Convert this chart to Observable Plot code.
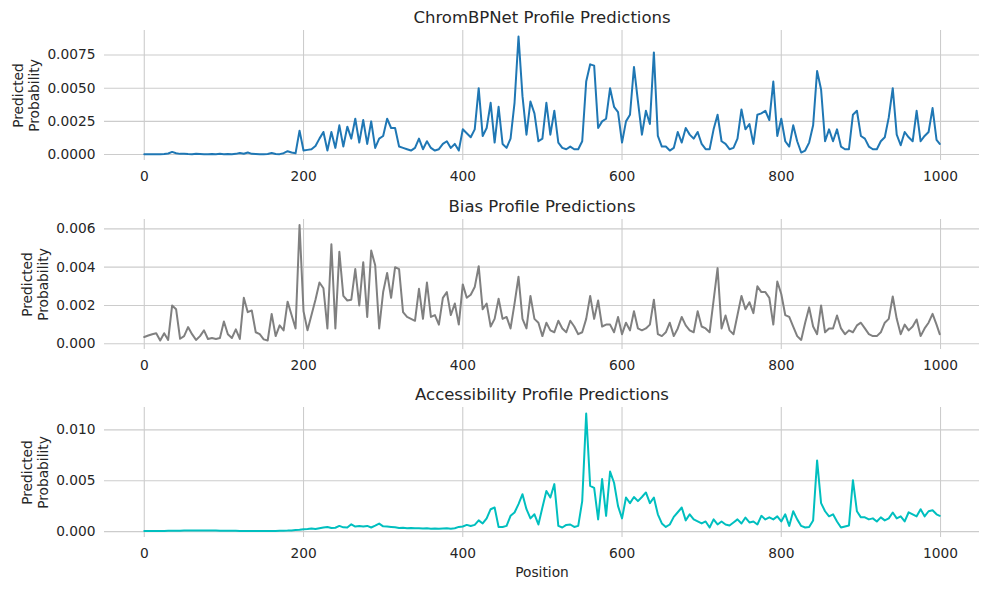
<!DOCTYPE html>
<html><head><meta charset="utf-8">
<script src="https://cdn.jsdelivr.net/npm/d3@7"></script>
<script src="https://cdn.jsdelivr.net/npm/@observablehq/plot@0.6"></script>
<style>
html,body{margin:0;padding:0;background:#fff;}
#chart svg{display:block;}
</style></head><body><div id="chart"></div>
<script>
// positions along the 1000-bp window (sampled every 5 bp, plus the last position)
const positions = d3.range(0, 1000, 5).concat([999]);

// predicted probabilities, in units of 1e-4
const chrombpnet = [0.3,0.3,0.3,0.3,0.3,0.4,0.8,2.0,1.0,0.5,0.6,0.4,0.3,0.5,0.4,0.3,0.3,0.4,0.3,0.5,
 0.3,0.4,0.3,0.5,1.2,0.6,1.5,0.5,0.4,0.3,0.3,0.4,1.2,0.4,0.3,1.0,2.5,1.5,1.0,18,
 3,3.5,4,6.5,12,17,3,17,5,22,6,21,12,27,9,26,8,25,5,12,
 14,27,20,20,6,5,4,3,5,12,4,10,5,3,4,8,10,5,8,3,
 19,16,13,19,50,14,20,39,9,36,8,5,12,39,89,44,15,40,31,10,
 12,39,15,33,9,5,4,6,4,4,10,55,68,67,20,25,27,50,36,32,
 9,25,30,66,40,15,33,23,77,14,6,6,3,5,17,9,20,15,12,17,
 8,4,4,19,30,10,8,4,5,12,34,19,23,8,30,31,33,26,55,14,
 27,10,6,22,10,1.5,3,9,22,63,49,10,19,10,19,6,4,4,30,33,
 14,12,6,4,4,10,13,28,50,15,7,17,13,10,33,10,14,17,35,11,
 8];

const bias = [3.5,4.3,5,5.5,1.7,5.5,2,20,18,2.6,4,8.7,5,2,4,7,2.5,3,2.5,3,
 11.6,5,3,7.5,2.5,24,16.5,17.4,6,5,2.3,1.7,15.6,4,9.6,7,22,15,8,62,
 17,7,15,23,32,29,8,52,8,48,25,22.6,23,39,20,42.6,14,48.7,41,8,
 27,37,24,40,39,16.5,14,13,12,28.7,13,32,14,15,10,24,27,15,21,10,
 31,24,25.6,29.6,40.5,18,21,9,13,23.5,13,14,8,21,35,13,8,25,13,11,
 4,11,7,6,12,8,6,12,9,5,6,13,25,13,22.6,9,10,10,6,14,
 5,11,7,17,8,7,8,10,23,5,4,6,11,4,8,14,9.6,7,6,17,
 9,8,6,22.6,39.5,8,14.8,7,5,15,25,18,21.7,16,30,27,27,24,10,32.5,
 26,15,14,9,4,2,11,19,9,5,20,6,8,8,14.8,8,5,7,6,9.6,
 11,8,5,4,4,6,11,13,24.7,13,5,10,7,9,12.7,4,8,11,15.6,10,
 5];

const accessibility = [0.5,0.5,0.6,0.6,0.7,0.7,0.8,0.8,0.9,0.9,1.0,1.0,1.1,1.0,1.1,1.0,1.1,1.0,1.0,0.9,
 0.9,0.8,0.8,0.8,0.7,0.7,0.7,0.6,0.6,0.6,0.6,0.6,0.7,0.7,0.8,0.9,1.0,1.2,1.5,1.8,
 2.3,2.6,3.0,2.5,3.3,4.0,4.6,3.5,3.8,5.6,4.2,4.0,7.2,5.0,5.4,5.0,5.6,4.0,5.8,7.9,
 5.2,5.0,4.6,4.2,3.6,3.8,3.3,3.5,3.2,3.4,3.0,3.2,2.9,3.1,2.8,3.0,3.2,2.9,3.3,4.6,
 5.0,6.6,5.5,6.6,11,8,13,22,23.7,4.5,4.6,5.6,15.5,18.8,27,36.8,22,13,17,7,
 23.7,40,33.5,46.7,5.6,4,6.6,7,4.6,5.6,30,116,45,43,12,51.6,15.5,59,48,25,
 13,33.5,28,34,30,34,38.5,28,33.5,17,8,4.6,7,14.5,19,23.7,11,17,12,10,
 8,10,4,12,7,10,7,6,9,12,8,13.8,9,10,7,15.5,12,14,12,15,
 10,17,5.6,20,12,5.6,4,4.6,11,70,28,20,15,17,10,4,5,6,50.6,20,
 14,14,12,13,10,14,11,13,18.8,13,15,10,19,17,15,22,15,20,21,17,
 15.5];

const titles = ["ChromBPNet Profile Predictions", "Bias Profile Predictions", "Accessibility Profile Predictions"];
const yLabel = "Predicted\nProbability";
const xLabel = "Position";
const xTicks = [0, 200, 400, 600, 800, 1000];
const yTicks1 = [0, 0.0025, 0.005, 0.0075];
const yTicks2 = [0, 0.002, 0.004, 0.006];
const yTicks3 = [0, 0.005, 0.010];

const TXT = "#262626", GRID = "#cccccc";

function panel(o) {
  const data = o.values.map((v, i) => ({pos: positions[i], p: v * 1e-4}));
  const marks = [
    Plot.gridX(xTicks, {stroke: GRID, strokeOpacity: 1, strokeWidth: 1.1}),
    Plot.gridY(o.yTicks, {stroke: GRID, strokeOpacity: 1, strokeWidth: 1.1}),
    Plot.axisX(xTicks, {tickSize: 0, tickPadding: 10.5, label: null, tickFormat: d3.format("d")}),
    Plot.axisY(o.yTicks, {tickSize: 0, tickPadding: 9, label: null, tickFormat: d3.format(o.fmt)}),
    Plot.line(data, {x: "pos", y: "p", stroke: o.color, strokeWidth: 2, strokeLinejoin: "round"}),
    Plot.text([o.title], {text: d => d, frameAnchor: "top", dy: -8, lineAnchor: "bottom", fontSize: 16.5, fill: TXT}),
    Plot.text([yLabel], {text: d => d, frameAnchor: "left", dx: o.labelDx, rotate: -90, lineAnchor: "middle", textAnchor: "middle", lineHeight: 1.17, fill: TXT})
  ];
  if (o.xlabel) marks.push(Plot.text([o.xlabel], {text: d => d, frameAnchor: "bottom", dy: 35, lineAnchor: "middle", fill: TXT}));
  return Plot.plot({
    width: 989, height: o.height,
    marginTop: o.marginTop, marginBottom: o.marginBottom, marginLeft: 104, marginRight: 10,
    x: {domain: [-49.95, 1048.95]},
    y: {domain: o.yDomain},
    style: {fontFamily: "DejaVu Sans", fontSize: "13.75px", color: TXT, background: "white", overflow: "visible"},
    marks
  });
}

const root = document.getElementById("chart");
root.append(panel({values: chrombpnet, color: "#1f77b4", title: titles[0], yTicks: yTicks1, fmt: ".4f",
  yDomain: [-0.00045, 0.00935], height: 190, marginTop: 30, marginBottom: 30, labelDx: -79}));
root.append(panel({values: bias, color: "#808080", title: titles[1], yTicks: yTicks2, fmt: ".3f",
  yDomain: [-0.0003, 0.00649], height: 189, marginTop: 29, marginBottom: 30, labelDx: -70}));
root.append(panel({values: accessibility, color: "#00bfbf", title: titles[2], yTicks: yTicks3, fmt: ".3f",
  yDomain: [-0.00058, 0.0122], height: 211, marginTop: 28, marginBottom: 53, labelDx: -70, xlabel: xLabel}));
</script></body></html>
